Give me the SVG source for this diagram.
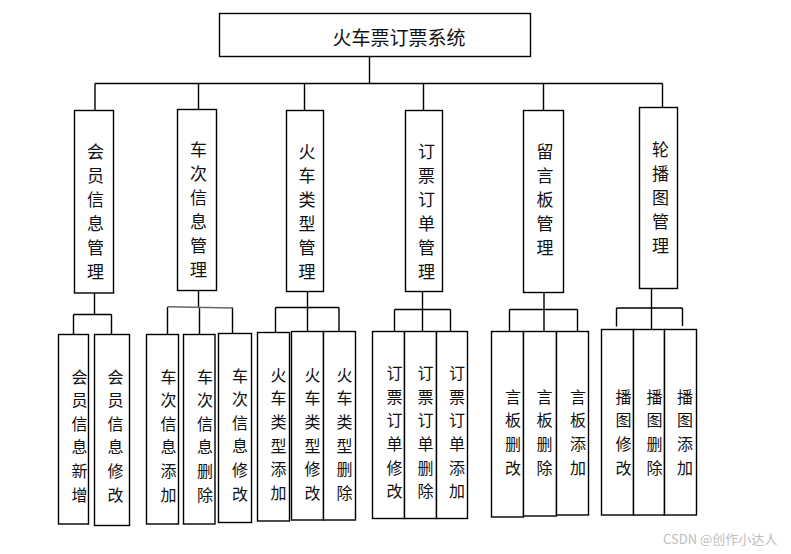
<svg xmlns="http://www.w3.org/2000/svg" width="791" height="554" viewBox="0 0 791 554">
<style>
.box{fill:#fff;stroke:#000;stroke-width:1.4}
.ln{fill:none;stroke:#000;stroke-width:1.4}
.t{font-family:"Noto Sans CJK SC","Liberation Serif",serif;fill:#111;text-anchor:middle}
.t1{font-size:17px}
.t2{font-size:16px}
.title{font-size:19px}
.wm{font-family:"Noto Sans CJK SC","Liberation Sans",sans-serif;font-size:13px;fill:#bdbdbd}
</style>
<rect width="791" height="554" fill="#fff"/>
<g id="connectors">
<path class="ln" d="M369.5 57V83.5M95 83.5H662.5M95 83.5V110.5M198.5 83.5V109.5M304.5 83.5V110.5M423.5 83.5V110.5M543.5 83.5V110.5M662.5 83.5V107.5"/>
<path class="ln" d="M94.5 293V314.5M73.5 314.5H111.5M73.5 314.5V334.5M111.5 314.5V334.5"/>
<path class="ln" d="M198.5 290.5V307M199.5 307V334.5M167.5 307V334.5M232.5 307.5V333.5"/>
<path d="M167.5 306.7L232.5 308" fill="none" stroke="#666" stroke-width="1.4"/>
<path class="ln" d="M307.5 291.5V331.5M275.5 307.5H339M275.5 307.5V332.5M339 307.5V331.5"/>
<path class="ln" d="M422.5 291.5V331.5M394.5 309.5H450.5M394.5 309.5V331.5M450.5 309.5V331.5"/>
<path class="ln" d="M544 292.5V331.5M509.5 309.5H577.5M509.5 309.5V331.5M577.5 309.5V331.5"/>
<path class="ln" d="M651.5 288.5V329.5M616.5 308H682.5M616.5 308V326.5M682.5 308V326"/>
</g>
<g id="root">
<rect class="box" x="219.5" y="13.5" width="311" height="43"/>
<text class="t title" x="399" y="45">火车票订票系统</text>
</g>
<g id="n1">
<rect class="box" x="74.5" y="110.5" width="39" height="182.5"/>
<text class="t t1"><tspan x="95.5" y="158">会</tspan><tspan x="95.5" y="182">员</tspan><tspan x="95.5" y="206">信</tspan><tspan x="95.5" y="230">息</tspan><tspan x="95.5" y="254">管</tspan><tspan x="95.5" y="278">理</tspan></text>
</g>
<g id="n2">
<rect class="box" x="177.5" y="109.5" width="39" height="181"/>
<text class="t t1"><tspan x="198.5" y="156">车</tspan><tspan x="198.5" y="180">次</tspan><tspan x="198.5" y="204">信</tspan><tspan x="198.5" y="228">息</tspan><tspan x="198.5" y="252">管</tspan><tspan x="198.5" y="276">理</tspan></text>
</g>
<g id="n3">
<rect class="box" x="286.5" y="110.5" width="37" height="181"/>
<text class="t t1"><tspan x="307" y="158">火</tspan><tspan x="307" y="182">车</tspan><tspan x="307" y="206">类</tspan><tspan x="307" y="230">型</tspan><tspan x="307" y="254">管</tspan><tspan x="307" y="278">理</tspan></text>
</g>
<g id="n4">
<rect class="box" x="405.5" y="110.5" width="37" height="181"/>
<text class="t t1"><tspan x="426.5" y="158">订</tspan><tspan x="426.5" y="182">票</tspan><tspan x="426.5" y="206">订</tspan><tspan x="426.5" y="230">单</tspan><tspan x="426.5" y="254">管</tspan><tspan x="426.5" y="278">理</tspan></text>
</g>
<g id="n5">
<rect class="box" x="523.5" y="110.5" width="40" height="182"/>
<text class="t t1"><tspan x="545" y="158">留</tspan><tspan x="545" y="182">言</tspan><tspan x="545" y="206">板</tspan><tspan x="545" y="230">管</tspan><tspan x="545" y="254">理</tspan></text>
</g>
<g id="n6">
<rect class="box" x="639.5" y="107.5" width="38" height="181"/>
<text class="t t1"><tspan x="660.5" y="156">轮</tspan><tspan x="660.5" y="180">播</tspan><tspan x="660.5" y="204">图</tspan><tspan x="660.5" y="228">管</tspan><tspan x="660.5" y="252">理</tspan></text>
</g>
<g id="n1a">
<rect class="box" x="58.5" y="334.5" width="30" height="189.5"/>
<text class="t t2"><tspan x="79.5" y="382.5">会</tspan><tspan x="79.5" y="406">员</tspan><tspan x="79.5" y="429.5">信</tspan><tspan x="79.5" y="453">息</tspan><tspan x="79.5" y="477">新</tspan><tspan x="79.5" y="500.5">增</tspan></text>
</g>
<g id="n1b">
<rect class="box" x="94.5" y="334.5" width="35" height="191"/>
<text class="t t2"><tspan x="115.5" y="382.5">会</tspan><tspan x="115.5" y="406">员</tspan><tspan x="115.5" y="429.5">信</tspan><tspan x="115.5" y="453">息</tspan><tspan x="115.5" y="477">修</tspan><tspan x="115.5" y="500.5">改</tspan></text>
</g>
<g id="n2a">
<rect class="box" x="146.5" y="334.5" width="32" height="189.5"/>
<text class="t t2"><tspan x="168.5" y="382.5">车</tspan><tspan x="168.5" y="406">次</tspan><tspan x="168.5" y="429.5">信</tspan><tspan x="168.5" y="453">息</tspan><tspan x="168.5" y="477">添</tspan><tspan x="168.5" y="500.5">加</tspan></text>
</g>
<g id="n2b">
<rect class="box" x="183.5" y="334.5" width="31.5" height="189.5"/>
<text class="t t2"><tspan x="205" y="382.5">车</tspan><tspan x="205" y="406">次</tspan><tspan x="205" y="429.5">信</tspan><tspan x="205" y="453">息</tspan><tspan x="205" y="477">删</tspan><tspan x="205" y="500.5">除</tspan></text>
</g>
<g id="n2c">
<rect class="box" x="218.5" y="333.5" width="33" height="189"/>
<text class="t t2"><tspan x="240" y="381.5">车</tspan><tspan x="240" y="405">次</tspan><tspan x="240" y="428.5">信</tspan><tspan x="240" y="452">息</tspan><tspan x="240" y="476">修</tspan><tspan x="240" y="499.5">改</tspan></text>
</g>
<g id="n3a">
<rect class="box" x="257.5" y="332.5" width="32" height="188.5"/>
<text class="t t2"><tspan x="278.5" y="380.5">火</tspan><tspan x="278.5" y="404">车</tspan><tspan x="278.5" y="428">类</tspan><tspan x="278.5" y="451.5">型</tspan><tspan x="278.5" y="475">添</tspan><tspan x="278.5" y="498.5">加</tspan></text>
</g>
<g id="n3b">
<rect class="box" x="291.5" y="331.5" width="32" height="188.5"/>
<text class="t t2"><tspan x="312.5" y="380.5">火</tspan><tspan x="312.5" y="404">车</tspan><tspan x="312.5" y="428">类</tspan><tspan x="312.5" y="451.5">型</tspan><tspan x="312.5" y="475">修</tspan><tspan x="312.5" y="498.5">改</tspan></text>
</g>
<g id="n3c">
<rect class="box" x="323.5" y="331.5" width="32" height="188.5"/>
<text class="t t2"><tspan x="344.5" y="380.5">火</tspan><tspan x="344.5" y="404">车</tspan><tspan x="344.5" y="428">类</tspan><tspan x="344.5" y="451.5">型</tspan><tspan x="344.5" y="475">删</tspan><tspan x="344.5" y="498.5">除</tspan></text>
</g>
<g id="n4a">
<rect class="box" x="372.5" y="331.5" width="32" height="187"/>
<text class="t t2"><tspan x="394.5" y="379">订</tspan><tspan x="394.5" y="402.5">票</tspan><tspan x="394.5" y="426">订</tspan><tspan x="394.5" y="450">单</tspan><tspan x="394.5" y="473.5">修</tspan><tspan x="394.5" y="497">改</tspan></text>
</g>
<g id="n4b">
<rect class="box" x="404.5" y="331.5" width="32" height="187"/>
<text class="t t2"><tspan x="425.5" y="379">订</tspan><tspan x="425.5" y="402.5">票</tspan><tspan x="425.5" y="426">订</tspan><tspan x="425.5" y="450">单</tspan><tspan x="425.5" y="473.5">删</tspan><tspan x="425.5" y="497">除</tspan></text>
</g>
<g id="n4c">
<rect class="box" x="436.5" y="331.5" width="31" height="187"/>
<text class="t t2"><tspan x="457" y="379">订</tspan><tspan x="457" y="402.5">票</tspan><tspan x="457" y="426">订</tspan><tspan x="457" y="450">单</tspan><tspan x="457" y="473.5">添</tspan><tspan x="457" y="497">加</tspan></text>
</g>
<g id="n5a">
<rect class="box" x="491.5" y="331.5" width="32" height="185.5"/>
<text class="t t2"><tspan x="513" y="402.5">言</tspan><tspan x="513" y="426">板</tspan><tspan x="513" y="450">删</tspan><tspan x="513" y="473.5">改</tspan></text>
</g>
<g id="n5b">
<rect class="box" x="523.5" y="331.5" width="33" height="184.5"/>
<text class="t t2"><tspan x="544.5" y="402.5">言</tspan><tspan x="544.5" y="426">板</tspan><tspan x="544.5" y="450">删</tspan><tspan x="544.5" y="473.5">除</tspan></text>
</g>
<g id="n5c">
<rect class="box" x="556.5" y="331.5" width="32" height="183.5"/>
<text class="t t2"><tspan x="578" y="402.5">言</tspan><tspan x="578" y="426">板</tspan><tspan x="578" y="450">添</tspan><tspan x="578" y="473.5">加</tspan></text>
</g>
<g id="n6a">
<rect class="box" x="601.5" y="329.5" width="32" height="185.5"/>
<text class="t t2"><tspan x="623.5" y="402.5">播</tspan><tspan x="623.5" y="426">图</tspan><tspan x="623.5" y="450">修</tspan><tspan x="623.5" y="473.5">改</tspan></text>
</g>
<g id="n6b">
<rect class="box" x="633.5" y="329.5" width="31" height="185.5"/>
<text class="t t2"><tspan x="654.5" y="402.5">播</tspan><tspan x="654.5" y="426">图</tspan><tspan x="654.5" y="450">删</tspan><tspan x="654.5" y="473.5">除</tspan></text>
</g>
<g id="n6c">
<rect class="box" x="664.5" y="329.5" width="32" height="185.5"/>
<text class="t t2"><tspan x="685" y="402.5">播</tspan><tspan x="685" y="426">图</tspan><tspan x="685" y="450">添</tspan><tspan x="685" y="473.5">加</tspan></text>
</g>
<text class="wm" x="663" y="544">CSDN @创作小达人</text>
</svg>
